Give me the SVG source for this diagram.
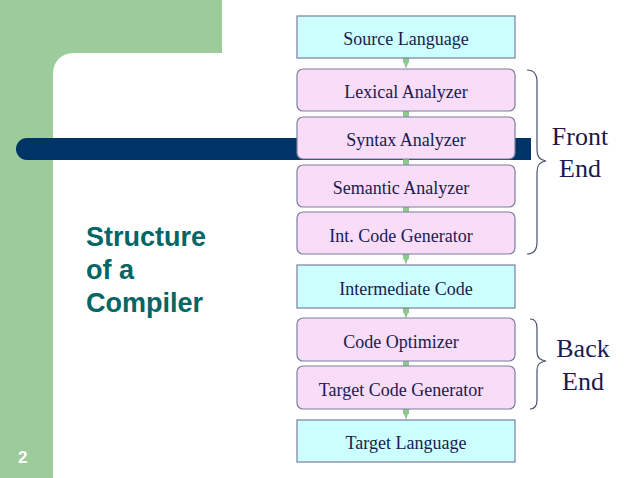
<svg xmlns="http://www.w3.org/2000/svg" width="638" height="478" viewBox="0 0 638 478">
<style>
.bx{stroke:#7a7fa0;stroke-width:1.2}
.cy{fill:#ccffff}
.pk{fill:#f8dcf8}
.t{font-family:"Liberation Serif",serif;font-size:18px;fill:#1a1a50;text-anchor:middle}
.br{fill:none;stroke:#4a5070;stroke-width:1.2}
.big{font-family:"Liberation Serif",serif;font-size:26px;fill:#1a1a50;text-anchor:middle}
</style>
<defs>
<marker id="ah" markerWidth="12" markerHeight="8" refX="6" refY="4" orient="auto-start-reverse" markerUnits="userSpaceOnUse"><path d="M0,0 L12,4 L0,8 z" fill="#8fc88f"/></marker>
</defs>
<rect width="638" height="478" fill="#fff"/>
<path d="M0,0 H222 V53 H73 A20,20 0 0 0 53,73 V478 H0 z" fill="#9ccc99"/>
<path d="M27,138 H531 V160 H27 A11,11 0 0 1 27,138 z" fill="#003366"/>
<g id="connectors" stroke="#8fc88f" stroke-width="6">
<line x1="406" y1="58" x2="406" y2="63" marker-end="url(#ah)"/>
<line x1="406" y1="111" x2="406" y2="117"/>
<line x1="406" y1="159" x2="406" y2="165"/>
<line x1="406" y1="207" x2="406" y2="212"/>
<line x1="406" y1="254" x2="406" y2="259" marker-end="url(#ah)"/>
<line x1="406" y1="308" x2="406" y2="313" marker-end="url(#ah)"/>
<line x1="406" y1="361" x2="406" y2="366"/>
<line x1="406" y1="409" x2="406" y2="414" marker-end="url(#ah)"/>
</g>
<g id="n1"><rect class="bx cy" x="297" y="16" width="218" height="42"/><text class="t" x="406" y="45">Source Language</text></g>
<g id="n2"><rect class="bx pk" x="297" y="69" width="218" height="42" rx="6"/><text class="t" x="406" y="98">Lexical Analyzer</text></g>
<g id="n3"><rect class="bx pk" x="297" y="117" width="218" height="42" rx="6"/><text class="t" x="406" y="146">Syntax Analyzer</text></g>
<g id="n4"><rect class="bx pk" x="297" y="165" width="218" height="42" rx="6"/><text class="t" x="401" y="194">Semantic Analyzer</text></g>
<g id="n5"><rect class="bx pk" x="297" y="212" width="218" height="42" rx="6"/><text class="t" x="401" y="242">Int. Code Generator</text></g>
<g id="n6"><rect class="bx cy" x="297" y="265" width="218" height="43"/><text class="t" x="406" y="295">Intermediate Code</text></g>
<g id="n7"><rect class="bx pk" x="297" y="318" width="218" height="43" rx="6"/><text class="t" x="401" y="348">Code Optimizer</text></g>
<g id="n8"><rect class="bx pk" x="297" y="366" width="218" height="43" rx="6"/><text class="t" x="401" y="396">Target Code Generator</text></g>
<g id="n9"><rect class="bx cy" x="297" y="420" width="218" height="42"/><text class="t" x="406" y="449">Target Language</text></g>
<g id="frontend">
<path class="br" d="M527,70 Q537,70 537,82 V150 Q537,160 546,161 Q537,162 537,172 V242 Q537,254 527,254"/>
<text class="big" x="580" y="145">Front</text><text class="big" x="580" y="177">End</text>
</g>
<g id="backend">
<path class="br" d="M530,319 Q537,319 537,328 V352 Q537,360 546,361 Q537,362 537,370 V400 Q537,409 530,409"/>
<text class="big" x="583" y="357">Back</text><text class="big" x="583" y="390">End</text>
</g>
<g id="title" font-family="Liberation Sans,Arial,sans-serif" font-weight="bold" font-size="27" fill="#006666">
<text x="86" y="246">Structure</text><text x="86" y="279">of a</text><text x="86" y="312">Compiler</text>
</g>
<text x="18" y="463" font-family="Liberation Sans,Arial,sans-serif" font-weight="bold" font-size="17" fill="#fff">2</text>
</svg>
